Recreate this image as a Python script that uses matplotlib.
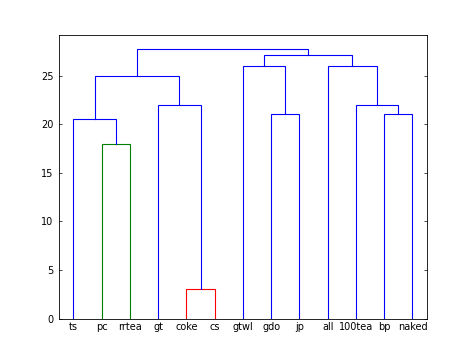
import matplotlib
matplotlib.use("Agg")
import matplotlib.pyplot as plt

# Leaf labels in display order
labels = ['ts', 'pc', 'rrtea', 'gt', 'coke', 'cs', 'gtwl', 'gdo', 'jp',
          'all', '100tea', 'bp', 'naked']

# Merges: node ids 0..12 are leaves, 13+ are clusters (in this order)
merge_left = [1, 4, 11, 7, 0, 3, 10, 6, 9, 17, 20, 22]
merge_right = [2, 5, 12, 8, 13, 14, 15, 16, 19, 18, 21, 23]
merge_height = [18.0, 3.0, 21.0, 21.0, 20.5, 22.0, 22.0, 26.0, 26.0, 25.0, 27.1, 27.75]
merge_color = ['g', 'r', 'b', 'b', 'b', 'b', 'b', 'b', 'b', 'b', 'b', 'b']

yticks = [0, 5, 10, 15, 20, 25]

n = len(labels)
xpos = {i: 5 + 10 * i for i in range(n)}
ypos = {i: 0.0 for i in range(n)}

fig = plt.figure(figsize=(4.74, 3.54), dpi=100)
ax = fig.add_axes([0.125, 0.1, 0.775, 0.8])

for k, (a, b, h, c) in enumerate(zip(merge_left, merge_right, merge_height, merge_color)):
    node = n + k
    xa, xb = xpos[a], xpos[b]
    ax.plot([xa, xa, xb, xb], [ypos[a], h, h, ypos[b]], color=c, linewidth=0.8,
            solid_joinstyle='miter')
    xpos[node] = (xa + xb) / 2.0
    ypos[node] = h

ax.set_xlim(0, 10 * n)
ax.set_ylim(0, max(merge_height) * 1.05)
ax.set_xticks([5 + 10 * i for i in range(n)])
ax.set_xticklabels(labels, fontsize=7)
ax.set_yticks(yticks)
ax.set_yticklabels([str(v) for v in yticks], fontsize=7)
ax.tick_params(axis='x', length=0, pad=2.5)
ax.tick_params(axis='y', direction='in', length=2.5, width=0.5, pad=4,
               left=True, right=True)
for s in ax.spines.values():
    s.set_linewidth(0.6)
    s.set_color('black')

fig.savefig('out.png', dpi=100)
